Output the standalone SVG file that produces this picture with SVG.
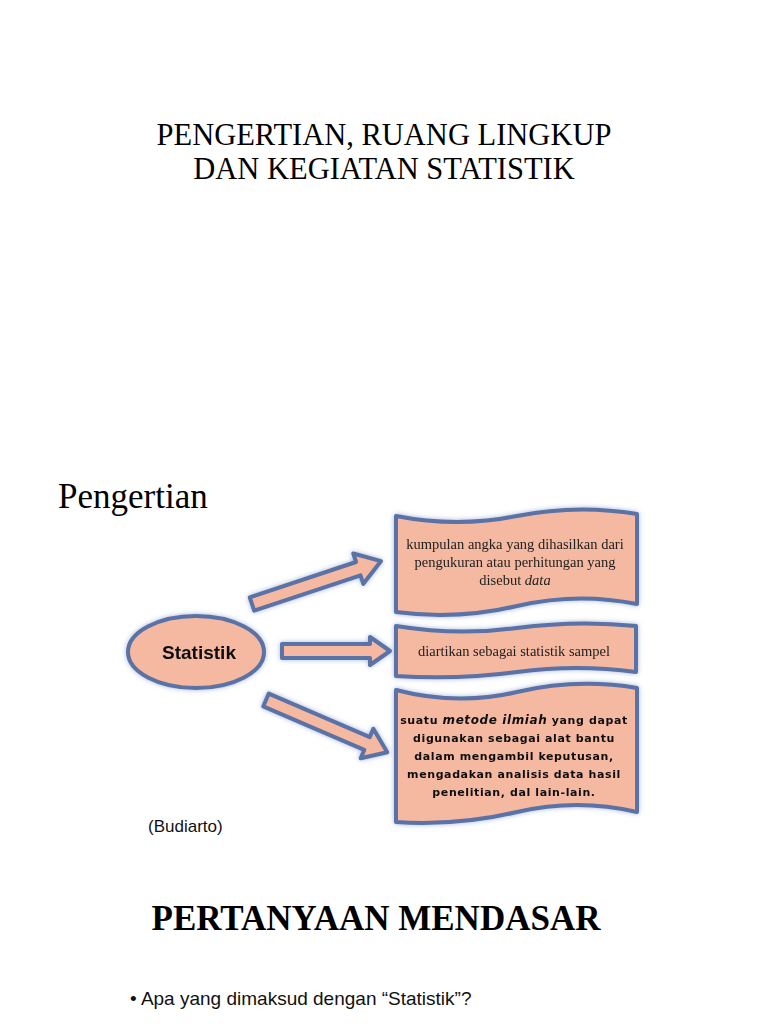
<svg xmlns="http://www.w3.org/2000/svg" width="768" height="1024" viewBox="0 0 768 1024">
<defs>
<style>
.shape{fill:#f5b8a0;stroke:#5a72a6;stroke-width:4;stroke-linejoin:round}
.ser{font-family:"Liberation Serif",serif;fill:#000}
.san{font-family:"Liberation Sans",sans-serif;fill:#111}
.bx{font-family:"Liberation Serif",serif;font-size:14.5px;fill:#222;text-anchor:middle}
.b3{font-family:"DejaVu Sans",sans-serif;font-size:11px;font-weight:bold;fill:#111;text-anchor:middle;letter-spacing:0.6px}
</style>
<filter id="glow" x="-20%" y="-20%" width="140%" height="140%">
<feGaussianBlur in="SourceAlpha" stdDeviation="2.5"/>
<feOffset dx="0" dy="0" result="b"/>
<feFlood flood-color="#7f96c4" flood-opacity="0.7"/>
<feComposite in2="b" operator="in"/>
<feMerge><feMergeNode/><feMergeNode in="SourceGraphic"/></feMerge>
</filter>
</defs>
<rect width="768" height="1024" fill="#fff"/>
<text class="ser" x="384" y="145" font-size="30.5" text-anchor="middle">PENGERTIAN, RUANG LINGKUP</text>
<text class="ser" x="384" y="179" font-size="30.5" text-anchor="middle">DAN KEGIATAN STATISTIK</text>
<text class="ser" x="58" y="508" font-size="35">Pengertian</text>

<g id="connectors" filter="url(#glow)">
<polygon class="shape" transform="translate(252,604) rotate(-18.4)" points="0,-7 112,-7 112,-16 136,0 112,16 112,7 0,7"/>
<polygon class="shape" transform="translate(282,651)" points="0,-7 88,-7 88,-14 108,0 88,14 88,7 0,7"/>
<polygon class="shape" transform="translate(266,700) rotate(23.3)" points="0,-7 110,-7 110,-16 132,0 110,16 110,7 0,7"/>
</g>

<g id="node-statistik" filter="url(#glow)">
<ellipse class="shape" cx="196" cy="652" rx="68" ry="36"/>
<text x="199" y="659" font-family="Liberation Sans,sans-serif" font-size="19" font-weight="bold" fill="#111" text-anchor="middle">Statistik</text>
</g>

<g id="node-data" filter="url(#glow)">
<path class="shape" d="M396,516 Q457,528 517,516 Q577,504 637,514 L637,604 Q577,592 517,606 Q457,620 396,612 Z"/>
<text class="bx" x="515" y="549">kumpulan angka yang dihasilkan dari</text>
<text class="bx" x="515" y="567">pengukuran atau perhitungan yang</text>
<text class="bx" x="515" y="585">disebut <tspan font-style="italic">data</tspan></text>
</g>

<g id="node-sampel" filter="url(#glow)">
<path class="shape" d="M396,626 Q457,636 517,628 Q577,620 636,626 L636,672 Q577,664 517,672 Q457,680 396,676 Z"/>
<text class="bx" x="514" y="656">diartikan sebagai statistik sampel</text>
</g>

<g id="node-metode" filter="url(#glow)">
<path class="shape" d="M396,690 Q457,706 517,692 Q577,678 637,688 L637,812 Q577,798 517,812 Q457,826 396,822 Z"/>
<text class="b3" x="514" y="724">suatu <tspan font-style="italic" font-size="12">metode ilmiah</tspan> yang dapat</text>
<text class="b3" x="514" y="742">digunakan sebagai alat bantu</text>
<text class="b3" x="514" y="760">dalam mengambil keputusan,</text>
<text class="b3" x="514" y="778">mengadakan analisis data hasil</text>
<text class="b3" x="514" y="796">penelitian, dal lain-lain.</text>
</g>

<text class="san" x="148" y="832" font-size="17">(Budiarto)</text>
<text class="ser" x="376" y="930" font-size="35" font-weight="bold" text-anchor="middle">PERTANYAAN MENDASAR</text>
<text class="san" x="130" y="1005" font-size="19">• Apa yang dimaksud dengan “Statistik”?</text>
</svg>
